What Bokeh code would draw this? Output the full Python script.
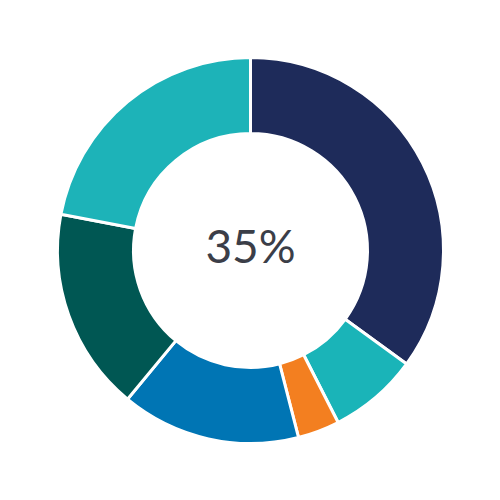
import numpy as np
from bokeh.plotting import figure
from bokeh.models import ColumnDataSource
from bokeh.core.properties import value
from bokeh.embed import file_html
from bokeh.resources import INLINE

categories = ["A", "B", "C", "D", "E", "F"]
shares = [35, 7.5, 3.5, 15, 17, 22]
colors = ["#1e2b5a", "#1ab4b8", "#f37f20", "#0075b4", "#005753", "#1db3b8"]
center_label = ["35%"]

vals = np.array(shares, dtype=float)
frac = vals / vals.sum()
cum = np.concatenate([[0], np.cumsum(frac)])
start = np.pi / 2 - cum[:-1] * 2 * np.pi
end = np.pi / 2 - cum[1:] * 2 * np.pi

src = ColumnDataSource(dict(cat=categories, start=start, end=end, color=colors))

p = figure(width=484, height=484, x_range=(-250, 234), y_range=(-234, 250),
           output_backend="svg", toolbar_location=None, min_border=0)
p.axis.visible = False
p.grid.visible = False
p.outline_line_color = None
p.background_fill_color = "white"

p.annular_wedge(x=0, y=0, inner_radius=117, outer_radius=193,
                start_angle="start", end_angle="end", direction="clock",
                fill_color="color", line_color="white", line_width=3, source=src)

p.text(x=[0], y=[5], text=center_label, text_align="center", text_baseline="middle",
       text_font=value("Lato"), text_font_size="46px", text_color="#3b3e48")

open("out.html", "w").write(file_html(p, INLINE))
